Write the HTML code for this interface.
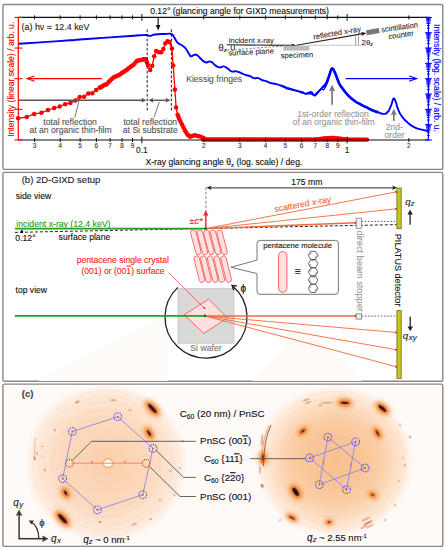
<!DOCTYPE html>
<html><head><meta charset="utf-8"><style>
html,body{margin:0;padding:0;background:#fff;}
svg{display:block;font-family:"Liberation Sans", sans-serif;}
</style></head><body>
<svg width="446" height="550" viewBox="0 0 446 550">
<defs>
</defs>
<rect width="446" height="550" fill="#fff"/>

<rect x="2.9" y="4.5" width="439.9" height="164.9" rx="1.5" fill="#fff" stroke="#888" stroke-width="1.4"/>
<rect x="2.9" y="172.4" width="439.9" height="208.9" rx="1.5" fill="#fff" stroke="#888" stroke-width="1.4"/>
<rect x="2.9" y="384.1" width="439.9" height="162.3" rx="1.5" fill="#fefaf8" stroke="#888" stroke-width="1.4"/>
<polyline points="18.1,118.3 26.8,117 34.2,113.9 41.4,112.8 48,110 54.2,108.1 59.7,106.5 65.2,104.2 70.4,102.9 75.4,100.5 79.7,97.1 84.1,96.8 88.3,93.6 92.3,93.2 96.2,90 99.8,87.4 100.6,87.6 103.4,85.4 106.7,84.3 110.1,80.4 113.5,77.6 116.8,76.1 120.2,74.2 123.5,72 126.9,69.7 130.3,66.9 133.6,64.7 137,60.7 140.4,60.1 143.7,59.3 146,59.4 147.8,65.1 150.2,70 152.2,65.8 154.2,56.3 156.2,51 158.9,52.3 161.2,52.3 163.4,48.9 165.3,43.6 167.4,41.3 169.3,41.9 172,48.5 173.2,65.6 174.9,89.6 176.1,107.5 177.6,114.7 179.4,119.2 182,124.6 184.7,130 187.4,134.4 190.1,136.8 194.6,135.3 199,136.2 203.6,138 210,139.2 368,139.6" fill="none" stroke="#f00" stroke-width="1.3" stroke-linejoin="round"/>
<circle cx="18.1" cy="118.3" r="2.25" fill="#f00"/>
<circle cx="26.8" cy="117" r="2.25" fill="#f00"/>
<circle cx="34.2" cy="113.9" r="2.25" fill="#f00"/>
<circle cx="41.4" cy="112.8" r="2.25" fill="#f00"/>
<circle cx="48" cy="110" r="2.25" fill="#f00"/>
<circle cx="54.2" cy="108.1" r="2.25" fill="#f00"/>
<circle cx="59.7" cy="106.5" r="2.25" fill="#f00"/>
<circle cx="65.2" cy="104.2" r="2.25" fill="#f00"/>
<circle cx="70.4" cy="102.9" r="2.25" fill="#f00"/>
<circle cx="75.4" cy="100.5" r="2.25" fill="#f00"/>
<circle cx="79.7" cy="97.1" r="2.25" fill="#f00"/>
<circle cx="84.1" cy="96.8" r="2.25" fill="#f00"/>
<circle cx="88.3" cy="93.6" r="2.25" fill="#f00"/>
<circle cx="92.3" cy="93.2" r="2.25" fill="#f00"/>
<circle cx="96.2" cy="90" r="2.25" fill="#f00"/>
<circle cx="99.8" cy="87.4" r="2.25" fill="#f00"/>
<circle cx="100.6" cy="87.6" r="2.25" fill="#f00"/>
<circle cx="103.4" cy="85.4" r="2.25" fill="#f00"/>
<circle cx="106.7" cy="84.3" r="2.25" fill="#f00"/>
<circle cx="110.1" cy="80.4" r="2.25" fill="#f00"/>
<circle cx="113.5" cy="77.6" r="2.25" fill="#f00"/>
<circle cx="116.8" cy="76.1" r="2.25" fill="#f00"/>
<circle cx="120.2" cy="74.2" r="2.25" fill="#f00"/>
<circle cx="123.5" cy="72" r="2.25" fill="#f00"/>
<circle cx="126.9" cy="69.7" r="2.25" fill="#f00"/>
<circle cx="130.3" cy="66.9" r="2.25" fill="#f00"/>
<circle cx="133.6" cy="64.7" r="2.25" fill="#f00"/>
<circle cx="137" cy="60.7" r="2.25" fill="#f00"/>
<circle cx="140.4" cy="60.1" r="2.25" fill="#f00"/>
<circle cx="143.7" cy="59.3" r="2.25" fill="#f00"/>
<circle cx="146" cy="59.4" r="2.25" fill="#f00"/>
<circle cx="147.8" cy="65.1" r="2.25" fill="#f00"/>
<circle cx="150.2" cy="70" r="2.25" fill="#f00"/>
<circle cx="152.2" cy="65.8" r="2.25" fill="#f00"/>
<circle cx="154.2" cy="56.3" r="2.25" fill="#f00"/>
<circle cx="156.2" cy="51" r="2.25" fill="#f00"/>
<circle cx="158.9" cy="52.3" r="2.25" fill="#f00"/>
<circle cx="161.2" cy="52.3" r="2.25" fill="#f00"/>
<circle cx="163.4" cy="48.9" r="2.25" fill="#f00"/>
<circle cx="165.3" cy="43.6" r="2.25" fill="#f00"/>
<circle cx="167.4" cy="41.3" r="2.25" fill="#f00"/>
<circle cx="169.3" cy="41.9" r="2.25" fill="#f00"/>
<circle cx="172" cy="48.5" r="2.25" fill="#f00"/>
<circle cx="173.2" cy="65.6" r="2.25" fill="#f00"/>
<circle cx="174.9" cy="89.6" r="2.25" fill="#f00"/>
<circle cx="176.1" cy="107.5" r="2.25" fill="#f00"/>
<circle cx="177.6" cy="114.7" r="2.25" fill="#f00"/>
<circle cx="179.4" cy="119.2" r="2.25" fill="#f00"/>
<circle cx="182" cy="124.6" r="2.25" fill="#f00"/>
<circle cx="184.7" cy="130" r="2.25" fill="#f00"/>
<circle cx="187.4" cy="134.4" r="2.25" fill="#f00"/>
<circle cx="190.1" cy="136.8" r="2.25" fill="#f00"/>
<circle cx="194.6" cy="135.3" r="2.25" fill="#f00"/>
<circle cx="199" cy="136.2" r="2.25" fill="#f00"/>
<circle cx="203.6" cy="138" r="2.25" fill="#f00"/>
<circle cx="102.0" cy="86.5" r="2.25" fill="#f00"/>
<circle cx="105.05000000000001" cy="84.85" r="2.25" fill="#f00"/>
<circle cx="108.4" cy="82.35" r="2.25" fill="#f00"/>
<circle cx="111.8" cy="79.0" r="2.25" fill="#f00"/>
<circle cx="115.15" cy="76.85" r="2.25" fill="#f00"/>
<circle cx="118.5" cy="75.15" r="2.25" fill="#f00"/>
<circle cx="121.85" cy="73.1" r="2.25" fill="#f00"/>
<circle cx="125.2" cy="70.85" r="2.25" fill="#f00"/>
<circle cx="128.60000000000002" cy="68.30000000000001" r="2.25" fill="#f00"/>
<circle cx="131.95" cy="65.80000000000001" r="2.25" fill="#f00"/>
<circle cx="135.3" cy="62.7" r="2.25" fill="#f00"/>
<circle cx="138.7" cy="60.400000000000006" r="2.25" fill="#f00"/>
<circle cx="142.05" cy="59.7" r="2.25" fill="#f00"/>
<circle cx="144.85" cy="59.349999999999994" r="2.25" fill="#f00"/>
<circle cx="146.9" cy="62.25" r="2.25" fill="#f00"/>
<circle cx="178.5" cy="116.95" r="2.25" fill="#f00"/>
<circle cx="180.7" cy="121.9" r="2.25" fill="#f00"/>
<circle cx="183.35" cy="127.3" r="2.25" fill="#f00"/>
<circle cx="186.05" cy="132.2" r="2.25" fill="#f00"/>
<circle cx="188.75" cy="135.60000000000002" r="2.25" fill="#f00"/>
<circle cx="192.35" cy="136.05" r="2.25" fill="#f00"/>
<circle cx="196.8" cy="135.75" r="2.25" fill="#f00"/>
<circle cx="201.3" cy="137.1" r="2.25" fill="#f00"/>
<line x1="203" y1="139.5" x2="367" y2="139.6" stroke="#f00" stroke-width="4.4" stroke-linecap="round"/>
<path d="M316,139 Q332,135.5 346,139" stroke="#f00" stroke-width="3" fill="none"/>
<path d="M18.30,43.80 C24.81,43.38 24.49,43.45 40.00,42.40 C55.51,41.35 58.00,41.17 70.00,40.30 C82.00,39.43 68.00,40.37 80.00,39.50 C92.00,38.63 92.00,38.66 110.00,37.40 C128.00,36.14 128.90,35.99 140.00,35.30 C151.10,34.61 144.00,34.92 147.00,35.10 C150.00,35.28 147.60,36.08 150.00,35.90 C152.40,35.72 150.50,35.07 155.00,34.50 C159.50,33.93 160.17,34.15 165.00,34.00 C169.83,33.85 168.37,33.07 171.10,34.00 C173.83,34.93 172.30,34.64 174.10,37.10 C175.90,39.56 175.30,40.07 177.10,42.20 C178.90,44.33 178.27,43.00 180.10,44.20 C181.93,45.40 181.37,44.70 183.20,46.20 C185.03,47.70 184.40,46.77 186.20,49.20 C188.00,51.63 187.70,52.17 189.20,54.30 C190.70,56.43 189.67,56.12 191.20,56.30 C192.73,56.48 192.47,55.20 194.30,54.90 C196.13,54.60 195.20,53.98 197.30,55.30 C199.40,56.62 198.87,57.20 201.30,59.30 C203.73,61.40 203.27,61.58 205.40,62.30 C207.53,63.02 206.60,61.82 208.40,61.70 C210.20,61.58 209.30,60.79 211.40,61.90 C213.50,63.01 212.97,63.75 215.40,65.40 C217.83,67.05 217.07,67.10 219.50,67.40 C221.93,67.70 221.10,66.10 223.50,66.40 C225.90,66.70 225.07,66.90 227.50,68.40 C229.93,69.90 228.87,70.50 231.60,71.40 C234.33,72.30 233.57,70.80 236.60,71.40 C239.63,72.00 238.97,72.32 241.70,73.40 C244.43,74.48 243.21,74.19 245.70,75.00 C248.19,75.81 247.51,75.17 250.00,76.10 C252.49,77.03 251.57,77.50 254.00,78.10 C256.43,78.70 255.67,77.50 258.10,78.10 C260.53,78.70 259.70,79.20 262.10,80.10 C264.50,81.00 263.67,80.29 266.10,81.10 C268.53,81.91 267.17,81.87 270.20,82.80 C273.23,83.73 272.57,83.30 276.20,84.20 C279.83,85.10 279.27,84.78 282.30,85.80 C285.33,86.82 283.87,86.70 286.30,87.60 C288.73,88.50 287.97,88.02 290.40,88.80 C292.83,89.58 292.00,89.48 294.40,90.20 C296.80,90.92 295.97,90.60 298.40,91.20 C300.83,91.80 300.37,91.45 302.50,92.20 C304.63,92.95 303.70,93.52 305.50,93.70 C307.30,93.88 306.70,93.25 308.50,92.80 C310.30,92.35 309.79,91.45 311.50,92.20 C313.21,92.95 312.67,95.00 314.20,95.30 C315.73,95.60 314.98,94.73 316.60,93.20 C318.22,91.67 317.80,92.00 319.60,90.20 C321.40,88.40 320.77,89.00 322.60,87.20 C324.43,85.40 323.87,87.23 325.70,84.20 C327.53,81.17 327.20,81.03 328.70,77.10 C330.20,73.17 329.62,73.65 330.70,71.10 C331.78,68.55 331.10,68.30 332.30,68.60 C333.50,68.90 333.05,68.65 334.70,72.10 C336.35,75.55 336.21,76.23 337.80,80.10 C339.39,83.97 338.44,82.30 340.00,85.00 C341.56,87.70 341.17,86.67 343.00,89.10 C344.83,91.53 343.97,90.67 346.10,93.10 C348.23,95.53 347.40,94.77 350.10,97.20 C352.80,99.63 352.07,99.10 355.10,101.20 C358.13,103.30 356.87,102.40 360.20,104.20 C363.53,106.00 362.57,105.37 366.20,107.20 C369.83,109.03 368.67,108.77 372.30,110.30 C375.93,111.83 374.97,111.22 378.30,112.30 C381.63,113.38 380.67,113.90 383.40,113.90 C386.13,113.90 385.30,114.31 387.40,112.30 C389.50,110.29 388.87,110.53 390.40,107.20 C391.93,103.87 391.51,103.78 392.50,101.20 C393.49,98.62 392.80,98.60 393.70,98.60 C394.60,98.60 394.06,97.69 395.50,101.20 C396.94,104.71 396.37,105.47 398.50,110.30 C400.63,115.13 399.57,113.37 402.60,117.30 C405.63,121.23 404.97,120.37 408.60,123.40 C412.23,126.43 411.07,125.60 414.70,127.40 C418.33,129.20 417.07,128.38 420.70,129.40 C424.33,130.42 424.49,130.26 426.80,130.80 C429.11,131.34 427.92,131.08 428.40,131.20" fill="none" stroke="#0000ff" stroke-width="1.9" stroke-linejoin="round"/>
<path d="M322.60,87.20 C323.53,86.30 323.87,87.23 325.70,84.20 C327.53,81.17 327.20,81.03 328.70,77.10 C330.20,73.17 329.62,73.65 330.70,71.10 C331.78,68.55 331.10,68.30 332.30,68.60 C333.50,68.90 333.05,68.65 334.70,72.10 C336.35,75.55 336.21,76.23 337.80,80.10 C339.39,83.97 338.44,82.30 340.00,85.00 C341.56,87.70 341.17,86.67 343.00,89.10 C344.83,91.53 343.97,90.67 346.10,93.10 C348.23,95.53 347.40,94.77 350.10,97.20 C352.80,99.63 352.07,99.10 355.10,101.20 C358.13,103.30 356.87,102.40 360.20,104.20 C363.53,106.00 362.57,105.37 366.20,107.20 C369.83,109.03 368.67,108.77 372.30,110.30 C375.93,111.83 376.50,111.70 378.30,112.30" fill="none" stroke="#0000ff" stroke-width="2.6" stroke-linejoin="round"/>
<polyline points="280.8,85.8 286.2,88.5 291.5,89.8 296.9,90.9 302.3,93.2 306.3,93.8 310.4,93.6 315.1,95.9 317.8,93.2 321.1,89.1 323.8,89.8 326.5,85.1 328.7,79" fill="none" stroke="#0000ff" stroke-width="1.3" stroke-linejoin="round"/>
<line x1="18.3" y1="17.4" x2="428.4" y2="17.4" stroke="#111" stroke-width="1.1"/>
<line x1="18.3" y1="140.0" x2="428.4" y2="140.0" stroke="#111" stroke-width="1.1"/>
<line x1="34.61" y1="138.0" x2="34.61" y2="142.0" stroke="#111" stroke-width="1"/>
<line x1="34.61" y1="15.399999999999999" x2="34.61" y2="19.4" stroke="#111" stroke-width="1"/>
<text x="34.61" y="148" font-size="6.4" text-anchor="middle" fill="#333" stroke="#333" stroke-width="0.12">3</text>
<line x1="60.24" y1="138.0" x2="60.24" y2="142.0" stroke="#111" stroke-width="1"/>
<line x1="60.24" y1="15.399999999999999" x2="60.24" y2="19.4" stroke="#111" stroke-width="1"/>
<text x="60.24" y="148" font-size="6.4" text-anchor="middle" fill="#333" stroke="#333" stroke-width="0.12">4</text>
<line x1="80.13" y1="138.0" x2="80.13" y2="142.0" stroke="#111" stroke-width="1"/>
<line x1="80.13" y1="15.399999999999999" x2="80.13" y2="19.4" stroke="#111" stroke-width="1"/>
<text x="80.13" y="148" font-size="6.4" text-anchor="middle" fill="#333" stroke="#333" stroke-width="0.12">5</text>
<line x1="96.38" y1="138.0" x2="96.38" y2="142.0" stroke="#111" stroke-width="1"/>
<line x1="96.38" y1="15.399999999999999" x2="96.38" y2="19.4" stroke="#111" stroke-width="1"/>
<text x="96.38" y="148" font-size="6.4" text-anchor="middle" fill="#333" stroke="#333" stroke-width="0.12">6</text>
<line x1="110.11" y1="138.0" x2="110.11" y2="142.0" stroke="#111" stroke-width="1"/>
<line x1="110.11" y1="15.399999999999999" x2="110.11" y2="19.4" stroke="#111" stroke-width="1"/>
<text x="110.11" y="148" font-size="6.4" text-anchor="middle" fill="#333" stroke="#333" stroke-width="0.12">7</text>
<line x1="122.01" y1="138.0" x2="122.01" y2="142.0" stroke="#111" stroke-width="1"/>
<line x1="122.01" y1="15.399999999999999" x2="122.01" y2="19.4" stroke="#111" stroke-width="1"/>
<text x="122.01" y="148" font-size="6.4" text-anchor="middle" fill="#333" stroke="#333" stroke-width="0.12">8</text>
<line x1="132.51" y1="138.0" x2="132.51" y2="142.0" stroke="#111" stroke-width="1"/>
<line x1="132.51" y1="15.399999999999999" x2="132.51" y2="19.4" stroke="#111" stroke-width="1"/>
<text x="132.51" y="148" font-size="6.4" text-anchor="middle" fill="#333" stroke="#333" stroke-width="0.12">9</text>
<line x1="141.90" y1="136.6" x2="141.90" y2="143.4" stroke="#111" stroke-width="1"/>
<line x1="141.90" y1="13.999999999999998" x2="141.90" y2="20.799999999999997" stroke="#111" stroke-width="1"/>
<text x="141.90" y="152.8" font-size="8.4" text-anchor="middle" fill="#222" stroke="#222" stroke-width="0.12">0.1</text>
<line x1="203.67" y1="138.0" x2="203.67" y2="142.0" stroke="#111" stroke-width="1"/>
<line x1="203.67" y1="15.399999999999999" x2="203.67" y2="19.4" stroke="#111" stroke-width="1"/>
<text x="203.67" y="148" font-size="6.4" text-anchor="middle" fill="#333" stroke="#333" stroke-width="0.12">2</text>
<line x1="239.81" y1="138.0" x2="239.81" y2="142.0" stroke="#111" stroke-width="1"/>
<line x1="239.81" y1="15.399999999999999" x2="239.81" y2="19.4" stroke="#111" stroke-width="1"/>
<text x="239.81" y="148" font-size="6.4" text-anchor="middle" fill="#333" stroke="#333" stroke-width="0.12">3</text>
<line x1="265.44" y1="138.0" x2="265.44" y2="142.0" stroke="#111" stroke-width="1"/>
<line x1="265.44" y1="15.399999999999999" x2="265.44" y2="19.4" stroke="#111" stroke-width="1"/>
<text x="265.44" y="148" font-size="6.4" text-anchor="middle" fill="#333" stroke="#333" stroke-width="0.12">4</text>
<line x1="285.33" y1="138.0" x2="285.33" y2="142.0" stroke="#111" stroke-width="1"/>
<line x1="285.33" y1="15.399999999999999" x2="285.33" y2="19.4" stroke="#111" stroke-width="1"/>
<text x="285.33" y="148" font-size="6.4" text-anchor="middle" fill="#333" stroke="#333" stroke-width="0.12">5</text>
<line x1="301.58" y1="138.0" x2="301.58" y2="142.0" stroke="#111" stroke-width="1"/>
<line x1="301.58" y1="15.399999999999999" x2="301.58" y2="19.4" stroke="#111" stroke-width="1"/>
<text x="301.58" y="148" font-size="6.4" text-anchor="middle" fill="#333" stroke="#333" stroke-width="0.12">6</text>
<line x1="315.31" y1="138.0" x2="315.31" y2="142.0" stroke="#111" stroke-width="1"/>
<line x1="315.31" y1="15.399999999999999" x2="315.31" y2="19.4" stroke="#111" stroke-width="1"/>
<text x="315.31" y="148" font-size="6.4" text-anchor="middle" fill="#333" stroke="#333" stroke-width="0.12">7</text>
<line x1="327.21" y1="138.0" x2="327.21" y2="142.0" stroke="#111" stroke-width="1"/>
<line x1="327.21" y1="15.399999999999999" x2="327.21" y2="19.4" stroke="#111" stroke-width="1"/>
<text x="327.21" y="148" font-size="6.4" text-anchor="middle" fill="#333" stroke="#333" stroke-width="0.12">8</text>
<line x1="337.71" y1="138.0" x2="337.71" y2="142.0" stroke="#111" stroke-width="1"/>
<line x1="337.71" y1="15.399999999999999" x2="337.71" y2="19.4" stroke="#111" stroke-width="1"/>
<text x="337.71" y="148" font-size="6.4" text-anchor="middle" fill="#333" stroke="#333" stroke-width="0.12">9</text>
<line x1="347.10" y1="136.6" x2="347.10" y2="143.4" stroke="#111" stroke-width="1"/>
<line x1="347.10" y1="13.999999999999998" x2="347.10" y2="20.799999999999997" stroke="#111" stroke-width="1"/>
<text x="347.10" y="152.8" font-size="8.4" text-anchor="middle" fill="#222" stroke="#222" stroke-width="0.12">1</text>
<line x1="408.87" y1="138.0" x2="408.87" y2="142.0" stroke="#111" stroke-width="1"/>
<line x1="408.87" y1="15.399999999999999" x2="408.87" y2="19.4" stroke="#111" stroke-width="1"/>
<text x="408.87" y="148" font-size="6.4" text-anchor="middle" fill="#333" stroke="#333" stroke-width="0.12">2</text>
<line x1="18.3" y1="17.4" x2="18.3" y2="140.0" stroke="#f00" stroke-width="1.2"/>
<line x1="14.5" y1="17.40" x2="22.3" y2="17.40" stroke="#f00" stroke-width="1.1"/>
<line x1="14.5" y1="48.05" x2="22.3" y2="48.05" stroke="#f00" stroke-width="1.1"/>
<line x1="14.5" y1="78.70" x2="22.3" y2="78.70" stroke="#f00" stroke-width="1.1"/>
<line x1="14.5" y1="109.35" x2="22.3" y2="109.35" stroke="#f00" stroke-width="1.1"/>
<line x1="14.5" y1="140.00" x2="22.3" y2="140.00" stroke="#f00" stroke-width="1.1"/>
<line x1="428.4" y1="17.4" x2="428.4" y2="140.0" stroke="#0000ff" stroke-width="1.2"/>
<line x1="425.1" y1="140.00" x2="431.8" y2="140.00" stroke="#0000ff" stroke-width="1.1"/>
<line x1="426.90" y1="135.39" x2="429.90" y2="135.39" stroke="#0000ff" stroke-width="0.9"/>
<line x1="426.90" y1="132.69" x2="429.90" y2="132.69" stroke="#0000ff" stroke-width="0.9"/>
<line x1="426.40" y1="130.77" x2="430.40" y2="130.77" stroke="#0000ff" stroke-width="0.9"/>
<line x1="426.40" y1="129.29" x2="430.40" y2="129.29" stroke="#0000ff" stroke-width="0.9"/>
<line x1="426.10" y1="128.07" x2="430.70" y2="128.07" stroke="#0000ff" stroke-width="0.9"/>
<line x1="426.10" y1="127.05" x2="430.70" y2="127.05" stroke="#0000ff" stroke-width="0.9"/>
<line x1="426.10" y1="126.16" x2="430.70" y2="126.16" stroke="#0000ff" stroke-width="0.9"/>
<line x1="426.10" y1="125.38" x2="430.70" y2="125.38" stroke="#0000ff" stroke-width="0.9"/>
<line x1="425.1" y1="124.67" x2="431.8" y2="124.67" stroke="#0000ff" stroke-width="1.1"/>
<line x1="426.90" y1="120.06" x2="429.90" y2="120.06" stroke="#0000ff" stroke-width="0.9"/>
<line x1="426.90" y1="117.36" x2="429.90" y2="117.36" stroke="#0000ff" stroke-width="0.9"/>
<line x1="426.40" y1="115.45" x2="430.40" y2="115.45" stroke="#0000ff" stroke-width="0.9"/>
<line x1="426.40" y1="113.96" x2="430.40" y2="113.96" stroke="#0000ff" stroke-width="0.9"/>
<line x1="426.10" y1="112.75" x2="430.70" y2="112.75" stroke="#0000ff" stroke-width="0.9"/>
<line x1="426.10" y1="111.72" x2="430.70" y2="111.72" stroke="#0000ff" stroke-width="0.9"/>
<line x1="426.10" y1="110.84" x2="430.70" y2="110.84" stroke="#0000ff" stroke-width="0.9"/>
<line x1="426.10" y1="110.05" x2="430.70" y2="110.05" stroke="#0000ff" stroke-width="0.9"/>
<line x1="425.1" y1="109.35" x2="431.8" y2="109.35" stroke="#0000ff" stroke-width="1.1"/>
<line x1="426.90" y1="104.74" x2="429.90" y2="104.74" stroke="#0000ff" stroke-width="0.9"/>
<line x1="426.90" y1="102.04" x2="429.90" y2="102.04" stroke="#0000ff" stroke-width="0.9"/>
<line x1="426.40" y1="100.12" x2="430.40" y2="100.12" stroke="#0000ff" stroke-width="0.9"/>
<line x1="426.40" y1="98.64" x2="430.40" y2="98.64" stroke="#0000ff" stroke-width="0.9"/>
<line x1="426.10" y1="97.42" x2="430.70" y2="97.42" stroke="#0000ff" stroke-width="0.9"/>
<line x1="426.10" y1="96.40" x2="430.70" y2="96.40" stroke="#0000ff" stroke-width="0.9"/>
<line x1="426.10" y1="95.51" x2="430.70" y2="95.51" stroke="#0000ff" stroke-width="0.9"/>
<line x1="426.10" y1="94.73" x2="430.70" y2="94.73" stroke="#0000ff" stroke-width="0.9"/>
<line x1="425.1" y1="94.03" x2="431.8" y2="94.03" stroke="#0000ff" stroke-width="1.1"/>
<line x1="426.90" y1="89.41" x2="429.90" y2="89.41" stroke="#0000ff" stroke-width="0.9"/>
<line x1="426.90" y1="86.71" x2="429.90" y2="86.71" stroke="#0000ff" stroke-width="0.9"/>
<line x1="426.40" y1="84.80" x2="430.40" y2="84.80" stroke="#0000ff" stroke-width="0.9"/>
<line x1="426.40" y1="83.31" x2="430.40" y2="83.31" stroke="#0000ff" stroke-width="0.9"/>
<line x1="426.10" y1="82.10" x2="430.70" y2="82.10" stroke="#0000ff" stroke-width="0.9"/>
<line x1="426.10" y1="81.07" x2="430.70" y2="81.07" stroke="#0000ff" stroke-width="0.9"/>
<line x1="426.10" y1="80.19" x2="430.70" y2="80.19" stroke="#0000ff" stroke-width="0.9"/>
<line x1="426.10" y1="79.40" x2="430.70" y2="79.40" stroke="#0000ff" stroke-width="0.9"/>
<line x1="425.1" y1="78.70" x2="431.8" y2="78.70" stroke="#0000ff" stroke-width="1.1"/>
<line x1="426.90" y1="74.09" x2="429.90" y2="74.09" stroke="#0000ff" stroke-width="0.9"/>
<line x1="426.90" y1="71.39" x2="429.90" y2="71.39" stroke="#0000ff" stroke-width="0.9"/>
<line x1="426.40" y1="69.47" x2="430.40" y2="69.47" stroke="#0000ff" stroke-width="0.9"/>
<line x1="426.40" y1="67.99" x2="430.40" y2="67.99" stroke="#0000ff" stroke-width="0.9"/>
<line x1="426.10" y1="66.77" x2="430.70" y2="66.77" stroke="#0000ff" stroke-width="0.9"/>
<line x1="426.10" y1="65.75" x2="430.70" y2="65.75" stroke="#0000ff" stroke-width="0.9"/>
<line x1="426.10" y1="64.86" x2="430.70" y2="64.86" stroke="#0000ff" stroke-width="0.9"/>
<line x1="426.10" y1="64.08" x2="430.70" y2="64.08" stroke="#0000ff" stroke-width="0.9"/>
<line x1="425.1" y1="63.38" x2="431.8" y2="63.38" stroke="#0000ff" stroke-width="1.1"/>
<line x1="426.90" y1="58.76" x2="429.90" y2="58.76" stroke="#0000ff" stroke-width="0.9"/>
<line x1="426.90" y1="56.06" x2="429.90" y2="56.06" stroke="#0000ff" stroke-width="0.9"/>
<line x1="426.40" y1="54.15" x2="430.40" y2="54.15" stroke="#0000ff" stroke-width="0.9"/>
<line x1="426.40" y1="52.66" x2="430.40" y2="52.66" stroke="#0000ff" stroke-width="0.9"/>
<line x1="426.10" y1="51.45" x2="430.70" y2="51.45" stroke="#0000ff" stroke-width="0.9"/>
<line x1="426.10" y1="50.42" x2="430.70" y2="50.42" stroke="#0000ff" stroke-width="0.9"/>
<line x1="426.10" y1="49.54" x2="430.70" y2="49.54" stroke="#0000ff" stroke-width="0.9"/>
<line x1="426.10" y1="48.75" x2="430.70" y2="48.75" stroke="#0000ff" stroke-width="0.9"/>
<line x1="425.1" y1="48.05" x2="431.8" y2="48.05" stroke="#0000ff" stroke-width="1.1"/>
<line x1="426.90" y1="43.44" x2="429.90" y2="43.44" stroke="#0000ff" stroke-width="0.9"/>
<line x1="426.90" y1="40.74" x2="429.90" y2="40.74" stroke="#0000ff" stroke-width="0.9"/>
<line x1="426.40" y1="38.82" x2="430.40" y2="38.82" stroke="#0000ff" stroke-width="0.9"/>
<line x1="426.40" y1="37.34" x2="430.40" y2="37.34" stroke="#0000ff" stroke-width="0.9"/>
<line x1="426.10" y1="36.12" x2="430.70" y2="36.12" stroke="#0000ff" stroke-width="0.9"/>
<line x1="426.10" y1="35.10" x2="430.70" y2="35.10" stroke="#0000ff" stroke-width="0.9"/>
<line x1="426.10" y1="34.21" x2="430.70" y2="34.21" stroke="#0000ff" stroke-width="0.9"/>
<line x1="426.10" y1="33.43" x2="430.70" y2="33.43" stroke="#0000ff" stroke-width="0.9"/>
<line x1="425.1" y1="32.73" x2="431.8" y2="32.73" stroke="#0000ff" stroke-width="1.1"/>
<line x1="426.90" y1="28.11" x2="429.90" y2="28.11" stroke="#0000ff" stroke-width="0.9"/>
<line x1="426.90" y1="25.41" x2="429.90" y2="25.41" stroke="#0000ff" stroke-width="0.9"/>
<line x1="426.40" y1="23.50" x2="430.40" y2="23.50" stroke="#0000ff" stroke-width="0.9"/>
<line x1="426.40" y1="22.01" x2="430.40" y2="22.01" stroke="#0000ff" stroke-width="0.9"/>
<line x1="426.10" y1="20.80" x2="430.70" y2="20.80" stroke="#0000ff" stroke-width="0.9"/>
<line x1="426.10" y1="19.77" x2="430.70" y2="19.77" stroke="#0000ff" stroke-width="0.9"/>
<line x1="426.10" y1="18.89" x2="430.70" y2="18.89" stroke="#0000ff" stroke-width="0.9"/>
<line x1="426.10" y1="18.10" x2="430.70" y2="18.10" stroke="#0000ff" stroke-width="0.9"/>
<line x1="425.1" y1="17.40" x2="431.8" y2="17.40" stroke="#0000ff" stroke-width="1.1"/>
<text transform="translate(13.8,79.3) rotate(-90)" font-size="8.6" text-anchor="middle" fill="#f00" stroke="#f00" stroke-width="0.12">Intensity (linear scale) / arb. u.</text>
<text transform="translate(434.1,78) rotate(90)" font-size="8.6" text-anchor="middle" fill="#0000ff" stroke="#0000ff" stroke-width="0.12">Intensity (log. scale) / arb. u.</text>
<text x="145.5" y="165.3" font-size="8.6" fill="#111" stroke="#111" stroke-width="0.12">X-ray glancing angle θ<tspan font-size="6" dy="1.5">z</tspan><tspan dy="-1.5"> (log. scale) / deg.</tspan></text>
<text x="21.6" y="30.2" font-size="8.9" fill="#222" stroke="#222" stroke-width="0.12">(a) hν = 12.4 keV</text>
<text x="150.2" y="13.7" font-size="8.6" fill="#111" stroke="#111" stroke-width="0.12">0.12° (glancing angle for GIXD measurements)</text>
<line x1="158.15" y1="17.4" x2="158.15" y2="26" stroke="#111" stroke-width="1.1"/>
<path d="M155.85,25 L160.45,25 L158.15,30.5 z" fill="#111"/>
<line x1="147.2" y1="29.4" x2="147.2" y2="111.1" stroke="#222" stroke-width="1" stroke-dasharray="2.8,1.8"/>
<line x1="171.4" y1="29.4" x2="171.4" y2="111.1" stroke="#222" stroke-width="1" stroke-dasharray="2.8,1.8"/>
<line x1="27" y1="78.6" x2="102" y2="78.6" stroke="#f00" stroke-width="1.1"/>
<polyline points="34.6,75.9 27,78.6 34.6,81.3" fill="none" stroke="#f00" stroke-width="1.1"/>
<line x1="345.6" y1="78.6" x2="416.7" y2="78.6" stroke="#0000ff" stroke-width="1.1"/>
<polyline points="409.1,75.9 416.7,78.6 409.1,81.3" fill="none" stroke="#0000ff" stroke-width="1.1"/>
<line x1="18.5" y1="100.3" x2="144" y2="100.3" stroke="#555" stroke-width="1.4"/>
<path d="M146.4,100.3 L141.2,97.8 L142.4,100.3 L141.2,102.8 z" fill="#555"/>
<line x1="150" y1="100.3" x2="169" y2="100.3" stroke="#555" stroke-width="1.4"/>
<path d="M148.4,100.3 L153.6,97.8 L152.4,100.3 L153.6,102.8 z" fill="#555"/>
<path d="M170.5,100.3 L165.3,97.8 L166.5,100.3 L165.3,102.8 z" fill="#555"/>
<line x1="79.8" y1="97.5" x2="74.8" y2="117.6" stroke="#555" stroke-width="0.8"/>
<line x1="159.3" y1="102" x2="154" y2="117.4" stroke="#555" stroke-width="0.8"/>
<text x="70.1" y="125.2" font-size="8.6" text-anchor="middle" fill="#555" stroke="#555" stroke-width="0.12">total reflection</text>
<text x="70.6" y="133.4" font-size="8.6" text-anchor="middle" fill="#555" stroke="#555" stroke-width="0.12">at an organic thin-film</text>
<text x="150.2" y="125.2" font-size="8.6" text-anchor="middle" fill="#555" stroke="#555" stroke-width="0.12">total reflection</text>
<text x="150.3" y="133.4" font-size="8.6" text-anchor="middle" fill="#555" stroke="#555" stroke-width="0.12">at Si substrate</text>
<text x="186.2" y="82.3" font-size="8.6" fill="#5a5a5a" stroke="#5a5a5a" stroke-width="0.12">Kiessig fringes</text>
<text x="333" y="116.5" font-size="8.6" text-anchor="middle" fill="#999" stroke="#999" stroke-width="0.12">1st-order reflection</text>
<text x="333.7" y="125.1" font-size="8.6" text-anchor="middle" fill="#999" stroke="#999" stroke-width="0.12">of an organic thin-film</text>
<text x="394.4" y="129.9" font-size="8.6" text-anchor="middle" fill="#999" stroke="#999" stroke-width="0.12">2nd-</text>
<text x="394.6" y="137.5" font-size="8.6" text-anchor="middle" fill="#999" stroke="#999" stroke-width="0.12">order</text>
<line x1="332.1" y1="104.8" x2="332.1" y2="90" stroke="#777" stroke-width="1.7"/>
<path d="M332.1,84.6 L328.9,91.6 L332.1,90.2 L335.3,91.6 z" fill="#777"/>
<line x1="393.8" y1="120.8" x2="393.8" y2="113" stroke="#777" stroke-width="1.7"/>
<path d="M393.8,108.6 L390.8,115.2 L393.8,113.9 L396.8,115.2 z" fill="#777"/>
<text x="218.6" y="51" font-size="9.2" fill="#222" stroke="#222" stroke-width="0.12">θ<tspan font-size="6" dy="0.8" font-style="italic">z</tspan></text>
<line x1="226.8" y1="44.8" x2="293" y2="45.4" stroke="#222" stroke-width="1.15"/>
<path d="M296.5,45.4 L291.5,43.4 L292.5,45.4 L291.5,47.4 z" fill="#111"/>
<line x1="226.8" y1="50.2" x2="283" y2="46" stroke="#666" stroke-width="0.8" stroke-dasharray="2.2,1.6"/>
<path d="M231.2,45.2 L231.2,49.3 Q232.8,51.6 234.4,49.3 L234.4,45.2" fill="none" stroke="#333" stroke-width="0.9"/>
<text x="228.8" y="42.6" font-size="7.55" fill="#333" stroke="#333" stroke-width="0.12">incident x-ray</text>
<text transform="translate(228.6,55.6) rotate(-2.7)" font-size="7.55" fill="#333" stroke="#333" stroke-width="0.12">surface plane</text>
<rect x="283.3" y="45.6" width="26" height="5" fill="#bbb"/>
<line x1="309" y1="45.3" x2="366" y2="45.3" stroke="#aaa" stroke-width="0.7"/>
<text transform="translate(280.8,58.2) rotate(-2)" font-size="7.6" fill="#333" stroke="#333" stroke-width="0.12">specimen</text>
<line x1="296.5" y1="45.3" x2="363" y2="33.6" stroke="#222" stroke-width="1.1"/>
<path d="M366.3,33.1 L361,32 L362.3,33.8 L361.7,35.9 z" fill="#111"/>
<text transform="translate(313.8,39.6) rotate(-9.8)" font-size="7.6" fill="#333" stroke="#333" stroke-width="0.12">reflected x-ray</text>
<rect x="0" y="0" width="13" height="5" fill="#777" transform="translate(366,30.3) rotate(-9.8)"/>
<line x1="355.6" y1="36.2" x2="355.6" y2="45.2" stroke="#888" stroke-width="0.8"/>
<line x1="358.4" y1="35.8" x2="358.4" y2="45.2" stroke="#888" stroke-width="0.8"/>
<text x="361.6" y="44.8" font-size="7.8" fill="#333" stroke="#333" stroke-width="0.12">2θ<tspan font-size="5.2" dy="1.2" font-style="italic">z</tspan></text>
<text transform="translate(381.5,32.4) rotate(-8)" font-size="7.6" fill="#333" stroke="#333" stroke-width="0.12">scintillation</text>
<text transform="translate(388.8,39.2) rotate(-8)" font-size="7.6" fill="#333" stroke="#333" stroke-width="0.12">counter</text>
<polygon points="38,381 168,316 168,381" fill="#fefaf8"/>
<polygon points="252,381 306,326 362,381" fill="#fefaf8"/>
<text x="21.7" y="183.4" font-size="9.5" fill="#222" stroke="#222" stroke-width="0.12">(b) 2D-GIXD setup</text>
<text x="15.8" y="199.2" font-size="8.6" fill="#111" stroke="#111" stroke-width="0.12">side view</text>
<text x="16.3" y="226.6" font-size="8.7" fill="#24a024" stroke="#24a024" stroke-width="0.12">incident x-ray (12.4 keV)</text>
<line x1="14.9" y1="232.4" x2="396.7" y2="224.6" stroke="#222" stroke-width="1" stroke-dasharray="3,2"/>
<line x1="14.9" y1="228.6" x2="205.8" y2="228.6" stroke="#24a024" stroke-width="1.7"/>
<text x="15.3" y="241" font-size="8.7" fill="#111" stroke="#111" stroke-width="0.12">0.12°</text>
<circle cx="21.9" cy="232" r="1.3" fill="#111"/><path d="M20.4,231.4 L21.9,229.4 L23.4,231.4 z" fill="#111"/>
<text x="58.6" y="239.5" font-size="8.6" fill="#111" stroke="#111" stroke-width="0.12">surface plane</text>
<line x1="205.9" y1="187.4" x2="205.9" y2="228" stroke="#777" stroke-width="1" stroke-dasharray="2.5,2"/>
<line x1="209" y1="187.8" x2="394.5" y2="187.8" stroke="#555" stroke-width="1.2"/>
<path d="M206.5,187.8 L211.5,185.6 L210.5,187.8 L211.5,190 z" fill="#222"/>
<path d="M397.2,187.8 L392.2,185.6 L393.2,187.8 L392.2,190 z" fill="#222"/>
<text x="306.8" y="185.4" font-size="8.6" text-anchor="middle" fill="#111" stroke="#111" stroke-width="0.12">175 mm</text>
<line x1="205.8" y1="228.6" x2="396.7" y2="191.8" stroke="#f06a3a" stroke-width="0.9"/>
<circle cx="396.09999999999997" cy="191.8" r="1.1" fill="#e33"/>
<line x1="205.8" y1="228.6" x2="396.7" y2="208.8" stroke="#f06a3a" stroke-width="0.9"/>
<circle cx="396.09999999999997" cy="208.8" r="1.1" fill="#e33"/>
<line x1="205.8" y1="228.6" x2="356" y2="222.8" stroke="#f06a3a" stroke-width="1.4"/>
<circle cx="355.6" cy="222.8" r="1.3" fill="#e33"/>
<text transform="translate(303.2,207) rotate(-10.3)" font-size="8.7" text-anchor="middle" fill="#f06a3a" stroke="#f06a3a" stroke-width="0.12">scattered x-ray</text>
<line x1="361.6" y1="221.4" x2="396.6" y2="221.4" stroke="#555" stroke-width="0.9" stroke-dasharray="1.6,1.6"/>
<rect x="356.2" y="218.1" width="5.3" height="10.4" fill="#eee" stroke="#888" stroke-width="0.8"/>
<rect x="396.9" y="188" width="4.3" height="40.7" fill="#c4c428" stroke="#6d6d14" stroke-width="0.8"/>
<text x="405.2" y="204.8" font-size="9.6" font-style="italic" fill="#222" stroke="#222" stroke-width="0.12">q<tspan font-size="7.8" dy="1.5">z</tspan></text>
<line x1="410.1" y1="224.8" x2="410.1" y2="213" stroke="#222" stroke-width="1.3"/>
<path d="M410.1,209.8 L407.4,214.5 L412.8,214.5 z" fill="#222"/>
<line x1="205.8" y1="228.6" x2="205.8" y2="214" stroke="#f22" stroke-width="1.3"/>
<path d="M205.8,210.6 L203.2,215.4 L208.4,215.4 z" fill="#f22"/>
<text x="189.2" y="224.4" font-size="9.8" fill="#f22" stroke="#f22" stroke-width="0.12">±<tspan font-style="italic">c</tspan>*</text>
<rect x="-12.72" y="-2.7" width="25.44" height="5.4" rx="2.7" transform="translate(195.85,242.30) rotate(75.20)" fill="#fde2e2" stroke="#f66" stroke-width="0.9"/>
<rect x="-12.72" y="-2.7" width="25.44" height="5.4" rx="2.7" transform="translate(202.35,242.30) rotate(75.20)" fill="#fde2e2" stroke="#f66" stroke-width="0.9"/>
<rect x="-12.72" y="-2.7" width="25.44" height="5.4" rx="2.7" transform="translate(208.85,242.30) rotate(75.20)" fill="#fde2e2" stroke="#f66" stroke-width="0.9"/>
<rect x="-12.72" y="-2.7" width="25.44" height="5.4" rx="2.7" transform="translate(215.55,242.30) rotate(75.20)" fill="#fde2e2" stroke="#f66" stroke-width="0.9"/>
<rect x="-12.72" y="-2.7" width="25.44" height="5.4" rx="2.7" transform="translate(222.05,242.30) rotate(75.20)" fill="#fde2e2" stroke="#f66" stroke-width="0.9"/>
<rect x="-13.59" y="-2.7" width="27.19" height="5.4" rx="2.7" transform="translate(199.35,269.10) rotate(76.17)" fill="#fde2e2" stroke="#f66" stroke-width="0.9"/>
<rect x="-13.59" y="-2.7" width="27.19" height="5.4" rx="2.7" transform="translate(205.85,269.10) rotate(76.17)" fill="#fde2e2" stroke="#f66" stroke-width="0.9"/>
<rect x="-13.59" y="-2.7" width="27.19" height="5.4" rx="2.7" transform="translate(212.65,269.10) rotate(76.17)" fill="#fde2e2" stroke="#f66" stroke-width="0.9"/>
<rect x="-13.59" y="-2.7" width="27.19" height="5.4" rx="2.7" transform="translate(219.25,269.10) rotate(76.17)" fill="#fde2e2" stroke="#f66" stroke-width="0.9"/>
<rect x="-13.59" y="-2.7" width="27.19" height="5.4" rx="2.7" transform="translate(226.15,269.10) rotate(76.17)" fill="#fde2e2" stroke="#f66" stroke-width="0.9"/>
<circle cx="205.8" cy="228.6" r="1.4" fill="#1a6e1a"/>
<path d="M260,240.4 L335.4,240.4 Q338.4,240.4 338.4,243.4 L338.4,291.3 Q338.4,294.3 335.4,294.3 L260,294.3 Q257,294.3 257,291.3 L257,273.6 L231,267.3 L257,260.1 L257,243.4 Q257,240.4 260,240.4 z" fill="#fff" stroke="#666" stroke-width="0.9"/>
<text x="263.2" y="248.2" font-size="7.7" fill="#111" stroke="#111" stroke-width="0.12">pentacene molecule</text>
<rect x="278.6" y="251.6" width="8.3" height="40.6" rx="4.1" fill="#fde2e2" stroke="#f55" stroke-width="0.9"/>
<text x="297.6" y="274.6" font-size="10.5" font-weight="bold" text-anchor="middle" fill="#111" stroke="#111" stroke-width="0.12">≡</text>
<polygon points="317.85,255.41 315.48,259.53 310.73,259.53 308.35,255.41 310.73,251.30 315.48,251.30" fill="none" stroke="#444" stroke-width="0.8"/>
<line x1="309.68" y1="255.41" x2="311.39" y2="252.45" stroke="#666" stroke-width="0.6"/>
<line x1="316.52" y1="255.41" x2="314.81" y2="258.38" stroke="#666" stroke-width="0.6"/>
<polygon points="317.85,263.64 315.48,267.75 310.73,267.75 308.35,263.64 310.73,259.53 315.48,259.53" fill="none" stroke="#444" stroke-width="0.8"/>
<line x1="311.39" y1="260.68" x2="314.81" y2="260.68" stroke="#666" stroke-width="0.6"/>
<line x1="311.39" y1="266.60" x2="309.68" y2="263.64" stroke="#666" stroke-width="0.6"/>
<polygon points="317.85,271.87 315.48,275.98 310.73,275.98 308.35,271.87 310.73,267.75 315.48,267.75" fill="none" stroke="#444" stroke-width="0.8"/>
<line x1="309.68" y1="271.87" x2="311.39" y2="268.91" stroke="#666" stroke-width="0.6"/>
<line x1="316.52" y1="271.87" x2="314.81" y2="274.83" stroke="#666" stroke-width="0.6"/>
<polygon points="317.85,280.10 315.48,284.21 310.73,284.21 308.35,280.10 310.73,275.98 315.48,275.98" fill="none" stroke="#444" stroke-width="0.8"/>
<line x1="311.39" y1="277.13" x2="314.81" y2="277.13" stroke="#666" stroke-width="0.6"/>
<line x1="311.39" y1="283.06" x2="309.68" y2="280.10" stroke="#666" stroke-width="0.6"/>
<polygon points="317.85,288.32 315.48,292.44 310.73,292.44 308.35,288.32 310.73,284.21 315.48,284.21" fill="none" stroke="#444" stroke-width="0.8"/>
<line x1="309.68" y1="288.32" x2="311.39" y2="285.36" stroke="#666" stroke-width="0.6"/>
<line x1="316.52" y1="288.32" x2="314.81" y2="291.28" stroke="#666" stroke-width="0.6"/>
<text transform="translate(356.9,230.6) rotate(90)" font-size="9.2" fill="#999" stroke="#999" stroke-width="0.12">direct beam stopper</text>
<text transform="translate(395.4,233.8) rotate(90)" font-size="9.1" fill="#111" stroke="#111" stroke-width="0.12">PILATUS detector</text>
<text x="122.8" y="263" font-size="8.6" text-anchor="middle" fill="#f22" stroke="#f22" stroke-width="0.12">pentacene single crystal</text>
<text x="123" y="273.7" font-size="8.6" text-anchor="middle" fill="#f22" stroke="#f22" stroke-width="0.12">(001) or (00<tspan text-decoration="overline">1</tspan>) surface</text>
<text x="15.5" y="293" font-size="8.6" fill="#111" stroke="#111" stroke-width="0.12">top view</text>
<rect x="178" y="288.5" width="56" height="54.7" fill="#d9d9d9" stroke="#c4c4c4" stroke-width="0.8"/>
<text x="206" y="351.4" font-size="8.7" text-anchor="middle" fill="#777" stroke="#777" stroke-width="0.12">Si wafer</text>
<polygon points="208.7,299.1 227.4,318.1 203.8,333.4 184.1,314.8" fill="#fde0e0" stroke="#f55" stroke-width="0.9"/>
<line x1="169" y1="273" x2="204.3" y2="308" stroke="#f44" stroke-width="0.8"/>
<circle cx="204.3" cy="308" r="0.9" fill="#e22"/>
<path d="M177.78,287.36 A41,41 0 1 0 232.90,286.16" fill="none" stroke="#222" stroke-width="1.3"/>
<polyline points="236.97,286.13 232.08,285.46 233.67,290.14" fill="none" stroke="#222" stroke-width="1.4" stroke-linejoin="miter"/>
<text x="240.6" y="292.2" font-size="10" fill="#111" stroke="#111" stroke-width="0.12">ϕ</text>
<line x1="14.7" y1="315.9" x2="205" y2="315.9" stroke="#24a024" stroke-width="1.7"/>
<line x1="205" y1="316" x2="356" y2="316" stroke="#f06a3a" stroke-width="1.4"/>
<circle cx="355.6" cy="316" r="1.3" fill="#e33"/>
<line x1="205" y1="316" x2="396.7" y2="332.5" stroke="#f06a3a" stroke-width="0.9"/>
<circle cx="396.1" cy="332.5" r="1.1" fill="#e33"/>
<line x1="205" y1="316" x2="396.7" y2="349.8" stroke="#f06a3a" stroke-width="0.9"/>
<circle cx="396.1" cy="349.8" r="1.1" fill="#e33"/>
<line x1="205" y1="316" x2="396.7" y2="366.8" stroke="#f06a3a" stroke-width="0.9"/>
<circle cx="396.1" cy="366.8" r="1.1" fill="#e33"/>
<circle cx="205" cy="315.9" r="1.4" fill="#1a6e1a"/>
<line x1="361.7" y1="316.1" x2="396.6" y2="316.1" stroke="#555" stroke-width="0.9" stroke-dasharray="1.6,1.6"/>
<rect x="356.2" y="313.9" width="5.4" height="5.2" fill="#eee" stroke="#777" stroke-width="0.8"/>
<rect x="396.9" y="310.6" width="4.3" height="67.8" fill="#c4c428" stroke="#6d6d14" stroke-width="0.8"/>
<line x1="410.2" y1="316.8" x2="410.2" y2="327.5" stroke="#222" stroke-width="1.3"/>
<path d="M410.2,331.2 L407.5,326.4 L412.9,326.4 z" fill="#222"/>
<text x="402.8" y="339" font-size="9.8" font-style="italic" fill="#222" stroke="#222" stroke-width="0.12">q<tspan font-size="8" dy="1.2" dx="0.4">xy</tspan></text>
<defs>
<filter id="bl2" x="-100%" y="-100%" width="300%" height="300%"><feGaussianBlur stdDeviation="1.8"/></filter>
<filter id="bl1" x="-100%" y="-100%" width="300%" height="300%"><feGaussianBlur stdDeviation="0.8"/></filter>
<filter id="bl05" x="-100%" y="-100%" width="300%" height="300%"><feGaussianBlur stdDeviation="0.45"/></filter>
<filter id="bl3" x="-50%" y="-50%" width="200%" height="200%"><feGaussianBlur stdDeviation="2"/></filter>
<radialGradient id="gL" cx="0" cy="0" r="1" gradientTransform="translate(106,463.3) scale(78,76)" gradientUnits="userSpaceOnUse">
<stop offset="0" stop-color="#fbd0ac"/>
<stop offset="0.35" stop-color="#fcd5b5"/>
<stop offset="0.62" stop-color="#fcdabf"/>
<stop offset="0.74" stop-color="#fde1ca"/>
<stop offset="0.88" stop-color="#fde8d7"/>
<stop offset="1" stop-color="#feefe4"/>
</radialGradient>
<radialGradient id="gR" cx="0" cy="0" r="1" gradientTransform="translate(335,461.3) scale(76,73)" gradientUnits="userSpaceOnUse">
<stop offset="0" stop-color="#f8c090"/>
<stop offset="0.4" stop-color="#f9c698"/>
<stop offset="0.6" stop-color="#fbcea8"/>
<stop offset="0.72" stop-color="#fcd8b8"/>
<stop offset="0.85" stop-color="#fde3cc"/>
<stop offset="0.95" stop-color="#feecdd"/>
<stop offset="1" stop-color="#fef1e8"/>
</radialGradient>
<clipPath id="clipC"><rect x="3.6" y="384.4" width="438.5" height="161.3"/></clipPath>
</defs>
<g clip-path="url(#clipC)">
<ellipse cx="106" cy="463.3" rx="78" ry="76" fill="url(#gL)" filter="url(#bl3)"/>
<ellipse cx="334" cy="461.3" rx="76" ry="73" fill="url(#gR)" filter="url(#bl3)"/>
<circle cx="106" cy="463.3" r="54" fill="none" stroke="#e8a070" stroke-width="0.8" opacity="0.12"/>
<circle cx="106" cy="463.3" r="62" fill="none" stroke="#e8a070" stroke-width="0.8" opacity="0.08"/>
<circle cx="106" cy="463.3" r="67" fill="none" stroke="#e8a070" stroke-width="0.8" opacity="0.1"/>
<circle cx="106" cy="463.3" r="73" fill="none" stroke="#e8a070" stroke-width="0.8" opacity="0.08"/>
<circle cx="335" cy="461.3" r="56" fill="none" stroke="#e8a070" stroke-width="0.8" opacity="0.1"/>
<circle cx="335" cy="461.3" r="64" fill="none" stroke="#e8a070" stroke-width="0.8" opacity="0.08"/>
<circle cx="335" cy="461.3" r="70" fill="none" stroke="#e8a070" stroke-width="0.8" opacity="0.08"/>
<ellipse rx="11.75" ry="6.6" fill="#f5a058" opacity="0.45" filter="url(#bl3)" transform="translate(152.4,408.5) rotate(47)"/>
<ellipse rx="9.75" ry="4.9" fill="#f39a4a" opacity="0.60" filter="url(#bl2)" transform="translate(152.4,408.5) rotate(47)"/>
<ellipse rx="7.45" ry="3.0" fill="#ee6a1c" opacity="0.95" filter="url(#bl1)" transform="translate(152.4,408.5) rotate(47)"/>
<ellipse rx="5.95" ry="1.6" fill="#220a26" filter="url(#bl05)" transform="translate(152.4,408.5) rotate(47)"/>
<ellipse rx="9.0" ry="6.0" fill="#f5a058" opacity="0.45" filter="url(#bl3)" transform="translate(149.1,433.2) rotate(58)"/>
<ellipse rx="7.0" ry="4.3" fill="#f39a4a" opacity="0.60" filter="url(#bl2)" transform="translate(149.1,433.2) rotate(58)"/>
<ellipse rx="4.7" ry="2.4" fill="#ee6a1c" opacity="0.95" filter="url(#bl1)" transform="translate(149.1,433.2) rotate(58)"/>
<ellipse rx="3.2" ry="1.0" fill="#220a26" filter="url(#bl05)" transform="translate(149.1,433.2) rotate(58)"/>
<ellipse rx="8.5" ry="6.0" fill="#f5a058" opacity="0.45" filter="url(#bl3)" transform="translate(65.6,492.9) rotate(60)"/>
<ellipse rx="6.5" ry="4.3" fill="#f39a4a" opacity="0.60" filter="url(#bl2)" transform="translate(65.6,492.9) rotate(60)"/>
<ellipse rx="4.2" ry="2.4" fill="#ee6a1c" opacity="0.95" filter="url(#bl1)" transform="translate(65.6,492.9) rotate(60)"/>
<ellipse rx="2.7" ry="1.0" fill="#220a26" filter="url(#bl05)" transform="translate(65.6,492.9) rotate(60)"/>
<ellipse rx="12.0" ry="6.8" fill="#f5a058" opacity="0.45" filter="url(#bl3)" transform="translate(62.6,518.7) rotate(47)"/>
<ellipse rx="10.0" ry="5.1" fill="#f39a4a" opacity="0.60" filter="url(#bl2)" transform="translate(62.6,518.7) rotate(47)"/>
<ellipse rx="7.7" ry="3.1999999999999997" fill="#ee6a1c" opacity="0.95" filter="url(#bl1)" transform="translate(62.6,518.7) rotate(47)"/>
<ellipse rx="6.2" ry="1.7999999999999998" fill="#220a26" filter="url(#bl05)" transform="translate(62.6,518.7) rotate(47)"/>
<ellipse rx="2.5" ry="0.65" fill="#c0501a" opacity="0.8" filter="url(#bl05)" transform="translate(77.2,402) rotate(-30)"/>
<ellipse rx="3.5" ry="0.6" fill="#c0501a" opacity="0.8" filter="url(#bl05)" transform="translate(113.4,400.1) rotate(5)"/>
<ellipse rx="1.5" ry="0.75" fill="#c0501a" opacity="0.8" filter="url(#bl05)" transform="translate(100,522) rotate(0)"/>
<ellipse rx="3.0" ry="0.6" fill="#c0501a" opacity="0.8" filter="url(#bl05)" transform="translate(134.3,524) rotate(-20)"/>
<ellipse rx="2.0" ry="0.5" fill="#c0501a" opacity="0.8" filter="url(#bl05)" transform="translate(37.1,453.5) rotate(80)"/>
<ellipse rx="1.5" ry="0.6" fill="#c0501a" opacity="0.8" filter="url(#bl05)" transform="translate(170.5,470.7) rotate(80)"/>
<ellipse rx="1.5" ry="0.5" fill="#c0501a" opacity="0.8" filter="url(#bl05)" transform="translate(45,470) rotate(85)"/>
<ellipse rx="1.5" ry="0.5" fill="#c0501a" opacity="0.8" filter="url(#bl05)" transform="translate(160,500) rotate(-40)"/>
<ellipse rx="1.5" ry="0.5" fill="#c0501a" opacity="0.8" filter="url(#bl05)" transform="translate(55,430) rotate(-60)"/>
<ellipse rx="1.5" ry="0.5" fill="#c0501a" opacity="0.8" filter="url(#bl05)" transform="translate(130,410) rotate(10)"/>
<ellipse rx="9.75" ry="6.1" fill="#f5a058" opacity="0.45" filter="url(#bl3)" transform="translate(344.7,402.8) rotate(3)"/>
<ellipse rx="7.75" ry="4.4" fill="#f39a4a" opacity="0.60" filter="url(#bl2)" transform="translate(344.7,402.8) rotate(3)"/>
<ellipse rx="5.45" ry="2.5" fill="#ee6a1c" opacity="0.95" filter="url(#bl1)" transform="translate(344.7,402.8) rotate(3)"/>
<ellipse rx="3.95" ry="1.1" fill="#220a26" filter="url(#bl05)" transform="translate(344.7,402.8) rotate(3)"/>
<ellipse rx="10.5" ry="6.5" fill="#f5a058" opacity="0.45" filter="url(#bl3)" transform="translate(382.5,408.4) rotate(40)"/>
<ellipse rx="8.5" ry="4.8" fill="#f39a4a" opacity="0.60" filter="url(#bl2)" transform="translate(382.5,408.4) rotate(40)"/>
<ellipse rx="6.2" ry="2.9" fill="#ee6a1c" opacity="0.95" filter="url(#bl1)" transform="translate(382.5,408.4) rotate(40)"/>
<ellipse rx="4.7" ry="1.5" fill="#220a26" filter="url(#bl05)" transform="translate(382.5,408.4) rotate(40)"/>
<ellipse rx="8.5" ry="5.8" fill="#f5a058" opacity="0.36" filter="url(#bl3)" transform="translate(302.8,431.1) rotate(-40)"/>
<ellipse rx="6.5" ry="4.1" fill="#f39a4a" opacity="0.48" filter="url(#bl2)" transform="translate(302.8,431.1) rotate(-40)"/>
<ellipse rx="4.2" ry="2.2" fill="#ee6a1c" opacity="0.95" filter="url(#bl1)" transform="translate(302.8,431.1) rotate(-40)"/>
<ellipse rx="2.7" ry="0.8" fill="#220a26" filter="url(#bl05)" transform="translate(302.8,431.1) rotate(-40)"/>
<ellipse rx="9.0" ry="5.8" fill="#f5a058" opacity="0.36" filter="url(#bl3)" transform="translate(377.5,433.1) rotate(60)"/>
<ellipse rx="7.0" ry="4.1" fill="#f39a4a" opacity="0.48" filter="url(#bl2)" transform="translate(377.5,433.1) rotate(60)"/>
<ellipse rx="4.7" ry="2.2" fill="#ee6a1c" opacity="0.95" filter="url(#bl1)" transform="translate(377.5,433.1) rotate(60)"/>
<ellipse rx="3.2" ry="0.8" fill="#220a26" filter="url(#bl05)" transform="translate(377.5,433.1) rotate(60)"/>
<ellipse rx="10.5" ry="7.0" fill="#f5a058" opacity="0.45" filter="url(#bl3)" transform="translate(295.7,491.8) rotate(55)"/>
<ellipse rx="8.5" ry="5.3" fill="#f39a4a" opacity="0.60" filter="url(#bl2)" transform="translate(295.7,491.8) rotate(55)"/>
<ellipse rx="6.2" ry="3.4" fill="#ee6a1c" opacity="0.95" filter="url(#bl1)" transform="translate(295.7,491.8) rotate(55)"/>
<ellipse rx="4.7" ry="2.0" fill="#220a26" filter="url(#bl05)" transform="translate(295.7,491.8) rotate(55)"/>
<ellipse rx="7.5" ry="5.6" fill="#f5a058" opacity="0.32" filter="url(#bl3)" transform="translate(372.6,494.8) rotate(30)"/>
<ellipse rx="5.5" ry="3.9" fill="#f39a4a" opacity="0.42" filter="url(#bl2)" transform="translate(372.6,494.8) rotate(30)"/>
<ellipse rx="3.2" ry="2.0" fill="#ee6a1c" opacity="0.95" filter="url(#bl1)" transform="translate(372.6,494.8) rotate(30)"/>
<ellipse rx="1.7" ry="0.6000000000000001" fill="#220a26" filter="url(#bl05)" transform="translate(372.6,494.8) rotate(30)"/>
<ellipse rx="9.0" ry="5.8" fill="#f5a058" opacity="0.45" filter="url(#bl3)" transform="translate(263.1,457.8) rotate(88)"/>
<ellipse rx="7.0" ry="4.1" fill="#f39a4a" opacity="0.60" filter="url(#bl2)" transform="translate(263.1,457.8) rotate(88)"/>
<ellipse rx="4.7" ry="2.2" fill="#ee6a1c" opacity="0.95" filter="url(#bl1)" transform="translate(263.1,457.8) rotate(88)"/>
<ellipse rx="3.2" ry="0.8" fill="#220a26" filter="url(#bl05)" transform="translate(263.1,457.8) rotate(88)"/>
<ellipse rx="9.0" ry="5.6" fill="#f5a058" opacity="0.32" filter="url(#bl3)" transform="translate(292,517.7) rotate(30)"/>
<ellipse rx="7.0" ry="3.9" fill="#f39a4a" opacity="0.42" filter="url(#bl2)" transform="translate(292,517.7) rotate(30)"/>
<ellipse rx="4.7" ry="2.0" fill="#ee6a1c" opacity="0.95" filter="url(#bl1)" transform="translate(292,517.7) rotate(30)"/>
<ellipse rx="3.2" ry="0.6000000000000001" fill="#220a26" filter="url(#bl05)" transform="translate(292,517.7) rotate(30)"/>
<ellipse rx="7.25" ry="5.5" fill="#f5a058" opacity="0.27" filter="url(#bl3)" transform="translate(329,522.1) rotate(0)"/>
<ellipse rx="5.25" ry="3.8" fill="#f39a4a" opacity="0.36" filter="url(#bl2)" transform="translate(329,522.1) rotate(0)"/>
<ellipse rx="2.95" ry="1.9" fill="#ee6a1c" opacity="0.95" filter="url(#bl1)" transform="translate(329,522.1) rotate(0)"/>
<ellipse rx="1.45" ry="0.5" fill="#220a26" filter="url(#bl05)" transform="translate(329,522.1) rotate(0)"/>
<ellipse rx="4.0" ry="0.6" fill="#c0501a" opacity="0.8" filter="url(#bl05)" transform="translate(306,399.8) rotate(-20)"/>
<ellipse rx="3.5" ry="0.6" fill="#c0501a" opacity="0.8" filter="url(#bl05)" transform="translate(308,402.5) rotate(-20)"/>
<ellipse rx="5.0" ry="0.6" fill="#c0501a" opacity="0.8" filter="url(#bl05)" transform="translate(367.8,523.2) rotate(-25)"/>
<ellipse rx="4.0" ry="0.55" fill="#c0501a" opacity="0.8" filter="url(#bl05)" transform="translate(364,527) rotate(-25)"/>
<ellipse rx="2.0" ry="0.65" fill="#c0501a" opacity="0.8" filter="url(#bl05)" transform="translate(261.7,486.2) rotate(70)"/>
<ellipse rx="6.0" ry="0.6" fill="#c0501a" opacity="0.8" filter="url(#bl05)" transform="translate(262,440) rotate(95)"/>
<ellipse rx="4.0" ry="0.5" fill="#c0501a" opacity="0.8" filter="url(#bl05)" transform="translate(260,470) rotate(90)"/>
<ellipse rx="7.0" ry="0.4" fill="#c0501a" opacity="0.8" filter="url(#bl05)" transform="translate(327,402.8) rotate(-3)"/>
<ellipse rx="1.5" ry="0.5" fill="#c0501a" opacity="0.8" filter="url(#bl05)" transform="translate(400,425) rotate(60)"/>
<ellipse rx="1.5" ry="0.5" fill="#c0501a" opacity="0.8" filter="url(#bl05)" transform="translate(405,465) rotate(90)"/>
<ellipse rx="1.5" ry="0.5" fill="#c0501a" opacity="0.8" filter="url(#bl05)" transform="translate(395,505) rotate(-50)"/>
<ellipse rx="1.5" ry="0.5" fill="#c0501a" opacity="0.8" filter="url(#bl05)" transform="translate(280,520) rotate(-40)"/>
<ellipse rx="1.5" ry="0.5" fill="#c0501a" opacity="0.8" filter="url(#bl05)" transform="translate(320,405) rotate(0)"/>
<path d="M271,425 Q263.8,440 263.4,466" fill="none" stroke="#9a4014" stroke-width="1" opacity="0.85"/>
<path d="M268.8,426 Q261.6,441 261.6,464" fill="none" stroke="#b8501a" stroke-width="0.7" opacity="0.7"/>
<path d="M35.5,437 Q33.6,448 34.6,460" fill="none" stroke="#d88040" stroke-width="0.7" opacity="0.6"/>
<ellipse rx="2.0" ry="0.8" fill="#c0501a" opacity="0.8" filter="url(#bl05)" transform="translate(34.7,458.5) rotate(80)"/>
<ellipse rx="0.8" ry="0.6" fill="#c0501a" opacity="0.8" filter="url(#bl05)" transform="translate(42.6,446.5) rotate(0)"/>
<ellipse rx="0.8" ry="0.6" fill="#c0501a" opacity="0.8" filter="url(#bl05)" transform="translate(42.4,456) rotate(0)"/>
<ellipse rx="1.25" ry="0.75" fill="#c0501a" opacity="0.8" filter="url(#bl05)" transform="translate(182.6,441) rotate(60)"/>
<ellipse rx="1.0" ry="0.6" fill="#c0501a" opacity="0.8" filter="url(#bl05)" transform="translate(180,468) rotate(60)"/>
<ellipse rx="1.5" ry="0.6" fill="#c0501a" opacity="0.8" filter="url(#bl05)" transform="translate(174.6,495) rotate(60)"/>
<ellipse rx="1.75" ry="0.5" fill="#c0501a" opacity="0.8" filter="url(#bl05)" transform="translate(125,461.8) rotate(90)"/>
<ellipse rx="1.5" ry="0.5" fill="#c0501a" opacity="0.8" filter="url(#bl05)" transform="translate(92,462) rotate(90)"/>
<ellipse rx="1.0" ry="0.75" fill="#c0501a" opacity="0.8" filter="url(#bl05)" transform="translate(150.6,519.3) rotate(0)"/>
<ellipse rx="2.25" ry="0.75" fill="#c0501a" opacity="0.8" filter="url(#bl05)" transform="translate(262.5,485.5) rotate(60)"/>
<ellipse rx="2.5" ry="0.6" fill="#c0501a" opacity="0.8" filter="url(#bl05)" transform="translate(323.5,462) rotate(80)"/>
<ellipse rx="2.5" ry="0.6" fill="#c0501a" opacity="0.8" filter="url(#bl05)" transform="translate(351,465) rotate(80)"/>
<ellipse rx="5.0" ry="0.55" fill="#c0501a" opacity="0.8" filter="url(#bl05)" transform="translate(366,519) rotate(-28)"/>
<ellipse rx="5.0" ry="0.55" fill="#c0501a" opacity="0.8" filter="url(#bl05)" transform="translate(368,522.5) rotate(-28)"/>
<ellipse rx="4.5" ry="0.5" fill="#c0501a" opacity="0.8" filter="url(#bl05)" transform="translate(370,526) rotate(-28)"/>
<ellipse rx="1.5" ry="0.7" fill="#c0501a" opacity="0.8" filter="url(#bl05)" transform="translate(410,437) rotate(60)"/>
<ellipse rx="1.0" ry="0.6" fill="#c0501a" opacity="0.8" filter="url(#bl05)" transform="translate(403,458) rotate(60)"/>
<ellipse rx="1.0" ry="0.6" fill="#c0501a" opacity="0.8" filter="url(#bl05)" transform="translate(399,481) rotate(60)"/>
<ellipse rx="1.5" ry="0.5" fill="#c0501a" opacity="0.8" filter="url(#bl05)" transform="translate(385,520) rotate(-40)"/>
<ellipse rx="1.0" ry="0.5" fill="#c0501a" opacity="0.8" filter="url(#bl05)" transform="translate(311,536) rotate(0)"/>
<ellipse cx="107.9" cy="463.3" rx="5" ry="4.6" fill="#f5a050" filter="url(#bl1)"/>
<ellipse cx="107.9" cy="463.3" rx="3.9" ry="3.5" fill="#fff"/>
<line x1="73.3" y1="463.2" x2="142.1" y2="463.2" stroke="#f77060" stroke-width="0.8"/>
<polygon points="72.3,431.5 117.8,416.7 153,448.4 142.8,494.7 97.4,509.8 62.6,478.6" fill="none" stroke="#8f80e4" stroke-width="0.85"/>
<polygon points="327.9,437.2 365.1,468 319.3,484.6" fill="none" stroke="#8f80e4" stroke-width="0.85"/>
<polygon points="355.6,441.8 346.5,489.6 309.6,457.9" fill="none" stroke="#8f80e4" stroke-width="0.85"/>
<circle cx="72.3" cy="431.5" r="1" fill="#b05020" opacity="0.8"/>
<circle cx="72.3" cy="431.5" r="3.9" fill="none" stroke="#4a4af0" stroke-width="1.05" stroke-dasharray="1.3,0.9"/>
<circle cx="117.8" cy="416.7" r="1" fill="#b05020" opacity="0.8"/>
<circle cx="117.8" cy="416.7" r="3.9" fill="none" stroke="#4a4af0" stroke-width="1.05" stroke-dasharray="1.3,0.9"/>
<circle cx="153" cy="448.4" r="1" fill="#b05020" opacity="0.8"/>
<circle cx="153" cy="448.4" r="3.9" fill="none" stroke="#4a4af0" stroke-width="1.05" stroke-dasharray="1.3,0.9"/>
<circle cx="142.8" cy="494.7" r="1" fill="#b05020" opacity="0.8"/>
<circle cx="142.8" cy="494.7" r="3.9" fill="none" stroke="#4a4af0" stroke-width="1.05" stroke-dasharray="1.3,0.9"/>
<circle cx="97.4" cy="509.8" r="1" fill="#b05020" opacity="0.8"/>
<circle cx="97.4" cy="509.8" r="3.9" fill="none" stroke="#4a4af0" stroke-width="1.05" stroke-dasharray="1.3,0.9"/>
<circle cx="62.6" cy="478.6" r="1" fill="#b05020" opacity="0.8"/>
<circle cx="62.6" cy="478.6" r="3.9" fill="none" stroke="#4a4af0" stroke-width="1.05" stroke-dasharray="1.3,0.9"/>
<circle cx="327.9" cy="437.2" r="1" fill="#b05020" opacity="0.8"/>
<circle cx="327.9" cy="437.2" r="3.9" fill="none" stroke="#4a4af0" stroke-width="1.05" stroke-dasharray="1.3,0.9"/>
<circle cx="355.6" cy="441.8" r="1" fill="#b05020" opacity="0.8"/>
<circle cx="355.6" cy="441.8" r="3.9" fill="none" stroke="#4a4af0" stroke-width="1.05" stroke-dasharray="1.3,0.9"/>
<circle cx="365.1" cy="468" r="1" fill="#b05020" opacity="0.8"/>
<circle cx="365.1" cy="468" r="3.9" fill="none" stroke="#4a4af0" stroke-width="1.05" stroke-dasharray="1.3,0.9"/>
<circle cx="346.5" cy="489.6" r="1" fill="#b05020" opacity="0.8"/>
<circle cx="346.5" cy="489.6" r="3.9" fill="none" stroke="#4a4af0" stroke-width="1.05" stroke-dasharray="1.3,0.9"/>
<circle cx="319.3" cy="484.6" r="1" fill="#b05020" opacity="0.8"/>
<circle cx="319.3" cy="484.6" r="3.9" fill="none" stroke="#4a4af0" stroke-width="1.05" stroke-dasharray="1.3,0.9"/>
<circle cx="309.6" cy="457.9" r="1" fill="#b05020" opacity="0.8"/>
<circle cx="309.6" cy="457.9" r="3.9" fill="none" stroke="#4a4af0" stroke-width="1.05" stroke-dasharray="1.3,0.9"/>
<circle cx="69.4" cy="463.2" r="3.9" fill="none" stroke="#f33" stroke-width="1.05" stroke-dasharray="1.3,0.9"/>
<circle cx="146.1" cy="463.3" r="3.9" fill="none" stroke="#f33" stroke-width="1.05" stroke-dasharray="1.3,0.9"/>
<polyline points="72.4,460.3 91.7,441.3 196,441.3" fill="none" stroke="#555" stroke-width="0.9"/>
<polyline points="156,450.4 183.6,477.4 196,477.4" fill="none" stroke="#555" stroke-width="0.9"/>
<polyline points="149.5,466.5 180,496.5 196,496.5" fill="none" stroke="#555" stroke-width="0.9"/>
<line x1="250" y1="458.7" x2="305.6" y2="458.7" stroke="#555" stroke-width="0.9"/>
</g>
<text x="21.8" y="397.1" font-size="9.6" font-weight="bold" fill="#444" stroke="#444" stroke-width="0.12">(c)</text>
<text x="179.7" y="417" font-size="9.8" fill="#111" stroke="#111" stroke-width="0.12">C<tspan font-size="6.8" dy="1.6">60</tspan><tspan dy="-1.6"> (20 nm) / PnSC</tspan></text>
<text x="200.1" y="444.4" font-size="9.8" fill="#111" stroke="#111" stroke-width="0.12">PnSC (00<tspan text-decoration="overline">1</tspan>)</text>
<text x="204" y="462.3" font-size="9.8" fill="#111" stroke="#111" stroke-width="0.12">C<tspan font-size="6.8" dy="1.6">60</tspan><tspan dy="-1.6"> {11<tspan text-decoration="overline">1</tspan>}</tspan></text>
<text x="204" y="481.2" font-size="9.8" fill="#111" stroke="#111" stroke-width="0.12">C<tspan font-size="6.8" dy="1.6">60</tspan><tspan dy="-1.6"> {2<tspan text-decoration="overline">2</tspan>0}</tspan></text>
<text x="200.1" y="499.6" font-size="9.8" fill="#111" stroke="#111" stroke-width="0.12">PnSC (001)</text>
<line x1="19.1" y1="538.7" x2="19.1" y2="513" stroke="#333" stroke-width="1.5"/>
<path d="M19.1,510.2 L16.4,515.4 L19.1,514.4 L21.8,515.4 z" fill="#333" stroke="#333" stroke-width="0.6"/>
<line x1="18.4" y1="538.7" x2="45" y2="538.7" stroke="#333" stroke-width="1.5"/>
<path d="M47.8,538.7 L42.6,536 L43.6,538.7 L42.6,541.4 z" fill="#333" stroke="#333" stroke-width="0.6"/>
<path d="M38.8,538 Q38.5,526 30.5,521.5" fill="none" stroke="#333" stroke-width="1.3"/>
<path d="M28.8,520.4 L33.8,520.6 L31.2,524.4 z" fill="#333"/>
<text x="39.3" y="526.4" font-size="9.5" fill="#222" stroke="#222" stroke-width="0.12">ϕ</text>
<text x="13.3" y="505.6" font-size="10" font-style="italic" fill="#222" stroke="#222" stroke-width="0.12">q<tspan font-size="8" dy="1" dx="0.3">y</tspan></text>
<text x="51.1" y="541.6" font-size="10" font-style="italic" fill="#222" stroke="#222" stroke-width="0.12">q<tspan font-size="8" dy="1" dx="0.3">x</tspan></text>
<text x="83.2" y="542.6" font-size="9.5" fill="#111" stroke="#111" stroke-width="0.12"><tspan font-style="italic" font-size="10">q</tspan><tspan font-size="7.5" dy="1.2" font-style="italic">z</tspan><tspan dy="-1.2"> ~ 0 nm</tspan><tspan font-size="6" dy="-2.9">-1</tspan></text>
<text x="307.1" y="540.6" font-size="9.5" fill="#111" stroke="#111" stroke-width="0.12"><tspan font-style="italic" font-size="10">q</tspan><tspan font-size="7.5" dy="1.2" font-style="italic">z</tspan><tspan dy="-1.2"> ~ 2.55 nm</tspan><tspan font-size="6" dy="-2.9">-1</tspan></text>
</svg></body></html>
